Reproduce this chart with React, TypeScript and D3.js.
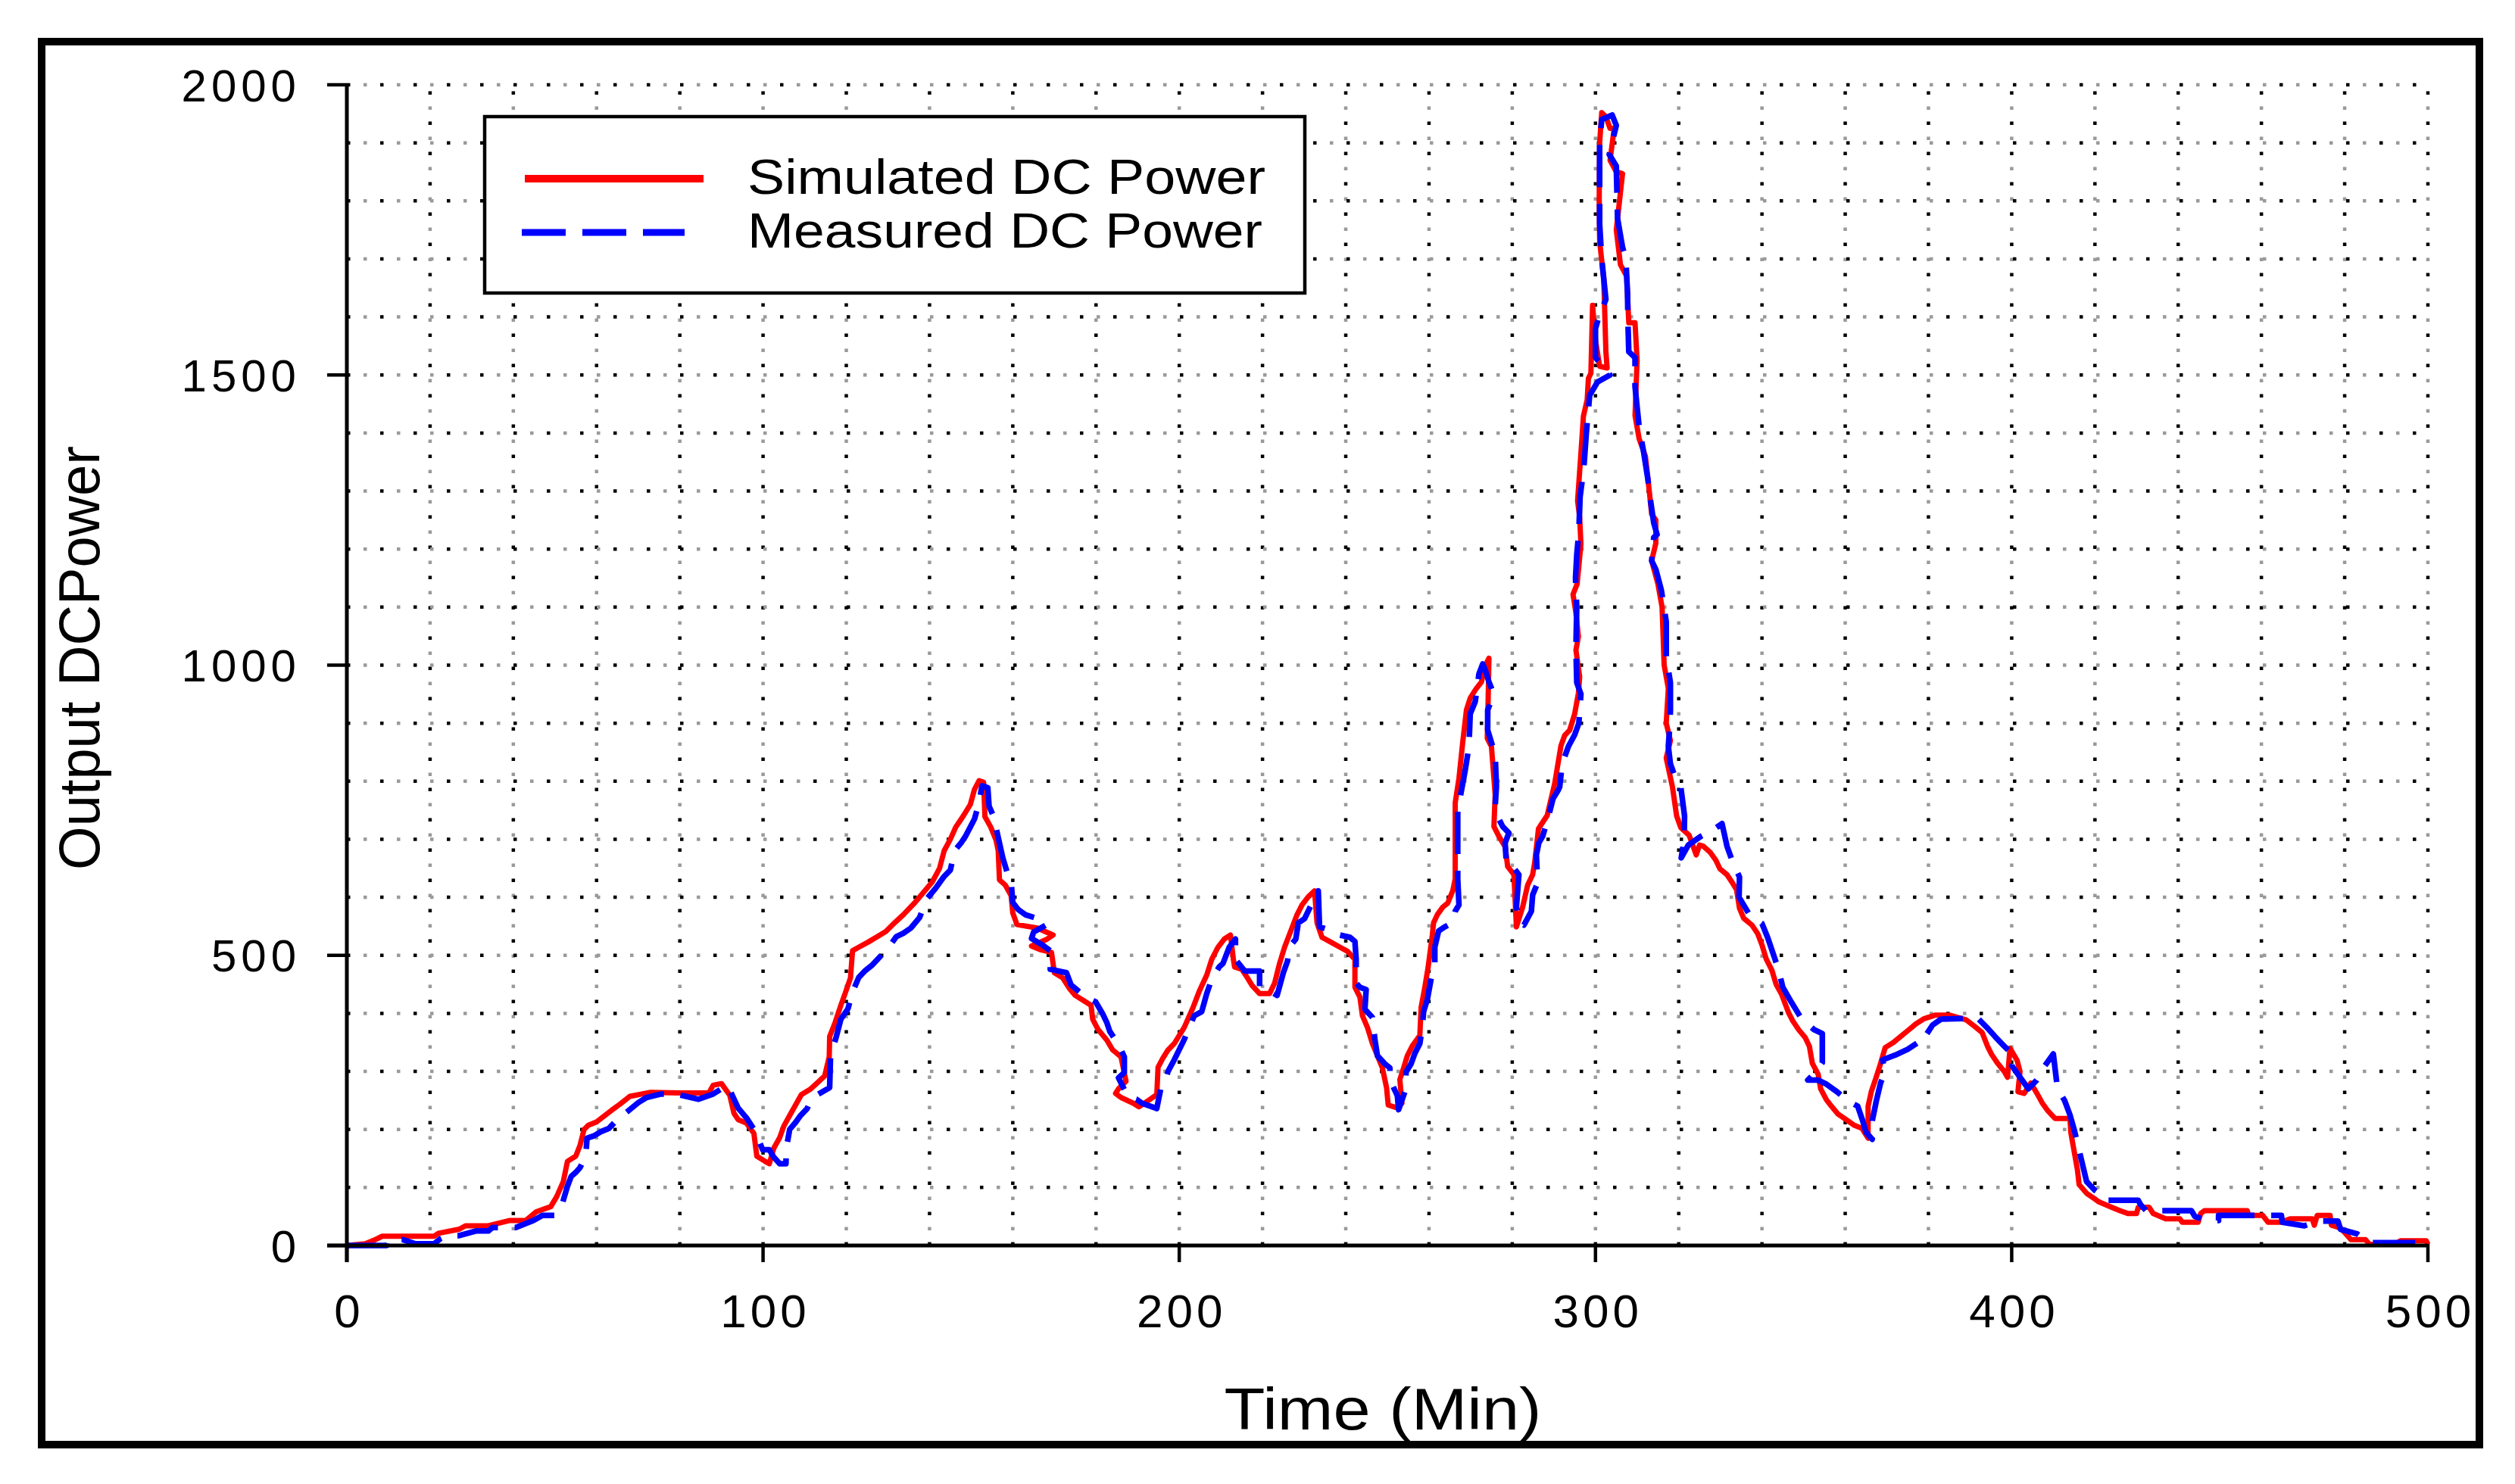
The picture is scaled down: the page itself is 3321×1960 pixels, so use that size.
import React from "react";
import * as d3 from "d3";

// ---------- data ----------
const xTicks = [0, 100, 200, 300, 400, 500];
const yTicks = [0, 500, 1000, 1500, 2000];
const xGridStep = 20;
const yGridStep = 100;

const legendLabels = ["Simulated DC Power", "Measured DC Power"];
const xTitle = "Time (Min)";
const yTitle = "Output DCPower";

const simulatedDC: [number, number][] = [
  [0,0],[4.4,3],[6.5,9],[8.5,16],[13.4,16],[21,16],[22,21],[27,28],[28.5,34],[34,34],[39,43],[43,43],[45.5,58],[49,67],[50.4,84],[52,110],[53,145],[55,154],[56,172],[57,200],[58,207],[60,213],[62,224],[63.6,233],[65.7,244],[68,257],[73,264],[80,263],[87,263],[88,276],[90,279],[92,259],[93,228],[94,217],[96,211],[97.8,193],[98.5,154],[100.5,145],[101.5,141],[102.6,168],[104,186],[105,206],[106.4,224],[107.8,242],[109.2,260],[111.3,269],[112.7,278],[114.8,292],[115.9,325],[116,360],[117.3,384],[118.7,414],[119.7,434],[121,461],[121.5,508],[123,514],[125.3,523],[127.4,532],[129.5,541],[131.6,556],[133.7,570],[136.5,591],[138.6,609],[140.7,627],[142.4,650],[143.5,680],[145,700],[146.3,721],[148,739],[149.8,760],[150.8,786],[151.9,801],[153,798],[153.3,739],[154.7,721],[156,698],[156.5,680],[156.8,630],[158.2,621],[159.6,603],[160,573],[161,553],[165.9,547],[169.7,535],[168,527],[164.5,516],[166.5,510],[169.3,505],[170,470],[172,461],[173.6,443],[175,431],[177,422],[178.8,414],[179.2,390],[180.5,372],[182.6,354],[184,337],[186,325],[187.2,283],[185.4,270],[184.7,262],[186,255],[189,245],[190.3,239],[192.8,251],[194.6,260],[194.9,307],[196,322],[197.3,337],[198.8,348],[201.2,376],[203.3,410],[204.8,438],[206.6,466],[207.8,493],[209.3,514],[210.8,528],[212.3,535],[213,493],[213.3,480],[215,476],[216.3,462],[217.5,448],[219.3,434],[221.7,434],[222.9,452],[224.1,486],[225.3,514],[226.8,542],[228.3,570],[229.5,587],[231,601],[232.5,611],[233.1,556],[234.3,531],[236.1,524],[238.6,514],[240.4,507],[242.2,493],[242.2,445],[243.4,428],[244,396],[245.2,376],[246.4,348],[248.8,306],[249.8,272],[250.2,242],[252,238],[253.5,245],[253,286],[253.9,306],[254.8,327],[256,344],[257.8,362],[258.1,410],[259,445],[259.8,480],[260.8,535],[261.1,556],[262,570],[263.3,583],[264.5,590],[265.7,611],[266.3,632],[266.3,763],[267.2,805],[268.1,867],[269,923],[269.9,943],[271.1,957],[272.6,971],[273.5,999],[274.4,1012],[274.2,937],[274,874],[275,860],[275.9,777],[275.6,722],[276.8,705],[278.3,687],[278.9,653],[280.4,639],[281,549],[282.5,583],[283.7,621],[284.9,639],[285.4,660],[286.3,718],[287.2,728],[288.4,741],[290.2,796],[291.7,861],[292.6,879],[293.8,888],[295,916],[295.9,952],[296.2,980],[295.3,1026],[295.9,1049],[295.3,1090],[294.6,1122],[295.6,1140],[295.9,1163],[296.5,1209],[296.2,1255],[295.7,1283],[296.5,1365],[297.1,1429],[298,1457],[298.3,1494],[298.9,1503],[299.3,1620],[300,1560],[301,1515],[302.8,1512],[302.5,1540],[302,1665],[301,1730],[300.9,1805],[301,1900],[301.5,1952],[302.5,1945],[303.5,1925],[304.5,1925],[303.5,1870],[305,1850],[306.5,1847],[305,1750],[306,1690],[307.5,1670],[308,1590],[309.5,1590],[310,1525],[309.5,1430],[310.5,1390],[312,1360],[313,1295],[313.5,1260],[314.5,1250],[314.5,1210],[313.5,1180],[315,1140],[316,1100],[316.5,1000],[317.5,960],[317,900],[318,870],[317,840],[318.5,790],[319.5,740],[320.5,720],[322.5,707],[324.2,673],[325,690],[325.9,688],[327.5,678],[328.9,664],[329.9,649],[331.6,639],[332.9,625],[333.9,613],[334.6,581],[335.6,564],[337.6,552],[339,537],[340,518],[341,494],[342.4,474],[343.4,450],[344.7,433],[346.4,401],[347.4,387],[348.8,372],[350.4,358],[351.4,343],[352.1,314],[353.5,295],[354.1,270],[355.5,251],[356.8,239],[358.2,227],[360.2,217],[362.2,207],[364,202],[365.5,185],[365.5,240],[366.3,266],[367.3,287],[368.3,309],[369.6,341],[371.6,350],[373.3,360],[375,370],[377,382],[379,391],[381.7,397],[385,397],[389,389],[391.2,377],[392.9,367],[394.2,343],[395.2,329],[396.6,314],[398.2,300],[399,290],[399.6,340],[401.3,319],[402,300],[401.5,265],[403,262],[404.6,280],[406,263],[407.3,246],[408.7,232],[410.4,219],[414,219],[414.2,195],[415.8,130],[416.2,105],[418,90],[420,80],[421,75],[424,66],[426,60],[428,55],[430,55],[430.4,66],[433,66],[434,55],[437,46],[440.4,46],[441,40],[444.8,40],[445.4,55],[446.3,60],[456.6,60],[456.9,52],[460.3,52],[461.6,40],[464.7,40],[466.9,46],[472.2,46],[472.7,35],[473.4,52],[476.5,52],[476.8,35],[479,30],[480.3,20],[481.5,10],[485,10],[486,2],[492,2],[493.4,8],[499.6,8],[500,2]
];

const measuredDC: [number, number][] = [
  [0,0],[4.4,0],[9.6,0],[10,10],[13.5,10],[16.5,3],[21,3],[22.5,12],[24,17],[27,17],[31,25],[34,25],[35,31],[40.6,31],[44.8,43],[47,52],[50,52],[50.7,62],[51.8,73],[53,102],[53.9,119],[55,126],[56,134],[57.4,154],[57.7,185],[59.4,189],[61,196],[63,202],[64.7,215],[70,246],[72,255],[75.5,261],[79,261],[84.5,252],[88,261],[90,270],[91.5,276],[92,268],[94,237],[96,220],[98,198],[98.8,185],[99.9,165],[101.5,165],[102.5,153],[104,141],[105.5,141],[105.6,168],[106.4,200],[107.8,212],[109,224],[110.6,236],[111.7,254],[116,272],[116.2,325],[117.6,360],[118.7,390],[120.4,408],[121.5,437],[123,462],[124.6,474],[126.2,483],[130.2,514],[132,532],[133.7,538],[135.5,547],[137.6,565],[139.3,597],[141.4,615],[143.5,636],[145,647],[146,680],[147.7,695],[148.7,706],[149.8,721],[150.8,735],[151.9,763],[152.6,792],[154,789],[154.3,757],[155.4,739],[156.5,703],[157.6,668],[158.6,644],[159.6,627],[160,591],[161.3,579],[163,570],[166.5,562],[168.2,553],[165,540],[164.5,529],[167.3,517],[169,508],[169,476],[172.9,470],[174,449],[175.5,440],[177.5,428],[179.9,420],[181.6,399],[182.6,384],[183.3,369],[185.4,346],[186.8,325],[186.8,298],[185.4,289],[187.6,257],[189.7,252],[191.1,245],[194.6,236],[195.6,272],[196.6,283],[197.3,300],[198.8,320],[201.2,355],[203.6,396],[205.4,403],[206.6,434],[207.8,459],[209.6,480],[210.5,486],[212,514],[213.5,528],[213.5,493],[215.7,473],[219.3,473],[219.3,445],[221.1,441],[223.5,431],[225,470],[226,490],[226.5,515],[228,528],[228.6,556],[230.1,563],[231.9,590],[233.4,611],[233.7,549],[235.5,545],[238.6,535],[241,531],[242.2,524],[242.5,493],[242.5,452],[243.4,445],[244.9,441],[244.6,407],[246.4,393],[247,355],[247.6,327],[249.4,313],[250.6,306],[250.6,286],[252.4,258],[252.7,234],[254.2,265],[254.5,299],[255.7,313],[256.6,331],[257.8,348],[258.4,376],[258.7,403],[259.6,424],[260.5,459],[261.4,486],[261.4,514],[262.3,542],[263.8,549],[265.7,556],[266.3,576],[267.2,587],[266.9,632],[266.9,750],[267.8,784],[268.7,819],[269.6,860],[269.9,916],[271.1,937],[272,985],[272.9,1002],[273.5,992],[274.4,971],[275.6,950],[274.1,923],[274.1,888],[275.9,846],[276.2,791],[275.9,757],[276.5,739],[277.7,722],[279.2,711],[278.3,694],[278.6,656],[280.1,653],[281.6,639],[281,583],[281.9,556],[282.8,552],[284.6,576],[284.9,604],[286.1,625],[285.8,673],[286.4,694],[287.3,705],[288.6,736],[289.8,770],[291,784],[291.4,790],[292,830],[293.5,860],[295,880],[296,900],[296.5,950],[295.5,970],[295.3,1030],[295.5,1100],[295.2,1150],[295.5,1190],[296,1230],[296.3,1290],[297.2,1340],[297.8,1400],[298.3,1440],[298.6,1465],[300.5,1488],[303.5,1500],[300,1530],[300,1580],[301,1605],[302.5,1630],[301.5,1700],[301,1760],[301,1830],[301,1900],[301.5,1940],[304,1948],[305,1930],[303.3,1880],[305,1860],[305.3,1770],[306.5,1720],[307.3,1700],[307.7,1640],[307.8,1590],[308,1540],[309.5,1530],[309.5,1480],[310.5,1410],[311.5,1370],[312.6,1320],[313,1295],[314,1245],[314.8,1225],[314,1220],[313.5,1180],[314.5,1165],[315.8,1130],[317,1075],[317,1015],[318,970],[318,920],[317.8,890],[317.5,860],[318,830],[319,810],[320.5,790],[321.4,740],[321.3,700],[320.6,668],[322.3,690],[325.3,705],[328,715],[330.4,727],[331.6,688],[333,660],[334.6,635],[334.5,600],[337,570],[340,555],[341.4,530],[344,475],[345,445],[347,420],[349.4,392],[352.5,372],[354.5,365],[354.5,315],[353,300],[351,285],[353.5,285],[355.5,278],[358,265],[360.5,250],[363,240],[364.2,215],[365,195],[366.5,183],[366.5,215],[367.5,250],[368.5,280],[369.6,300],[369,320],[372,328],[375,338],[377.5,350],[378,347],[381,380],[383,390],[391.8,392],[394,376],[396,360],[398,345],[400.6,326],[400,310],[402,290],[404,270],[406,285],[408,310],[410,330],[410.5,300],[411,270],[412.7,250],[414,225],[415,200],[416,170],[417,140],[418,110],[420,95],[421.4,88],[422.3,78],[430.4,78],[431,70],[432.3,60],[443.2,60],[444,50],[447,43],[449.7,43],[449.7,52],[456,52],[460,52],[464.8,52],[465,40],[470.3,34],[472,38],[474.4,42],[478.4,42],[479,28],[483,20],[486,5],[494.6,5],[496.8,5],[500,5]
];

// ---------- layout ----------
const W = 3321;
const H = 1960;
const FONT = "'Liberation Sans', Arial, Helvetica, sans-serif";

const x = d3.scaleLinear().domain([0, 500]).range([458, 3206]);
const y = d3.scaleLinear().domain([0, 2000]).range([1645, 112]);

const line = d3
  .line<[number, number]>()
  .x((d) => x(d[0]))
  .y((d) => y(d[1]));

export default function App() {
  const gridXs = d3.range(xGridStep, 500 + 0.001, xGridStep);
  const gridYs = d3.range(yGridStep, 2000 + 0.001, yGridStep);
  const [x0, x1] = x.range();
  const [y0, y1] = y.range();

  return (
    <svg
      width={W}
      height={H}
      viewBox={`0 0 ${W} ${H}`}
      style={{ position: "absolute", left: 0, top: 0, display: "block", background: "#fff" }}
    >
      <rect x={0} y={0} width={W} height={H} fill="#fff" />
      {/* outer frame */}
      <rect x={55} y={55} width={3219} height={1853} fill="none" stroke="#000" strokeWidth={10} />

      {/* dotted grid: alternating black / gray dots */}
      <g>
        {gridXs.map((g) => (
          <g key={"gx" + g}>
            <line x1={x(g)} x2={x(g)} y1={y0} y2={y1} stroke="#9a9a9a" strokeWidth={4.5} strokeDasharray="4.5 35.5" strokeDashoffset={20} />
            <line x1={x(g)} x2={x(g)} y1={y0} y2={y1} stroke="#000" strokeWidth={4.5} strokeDasharray="4.5 35.5" />
          </g>
        ))}
        {gridYs.map((g) => (
          <g key={"gy" + g}>
            <line x1={x0} x2={x1} y1={y(g)} y2={y(g)} stroke="#9a9a9a" strokeWidth={4.5} strokeDasharray="4.5 39.5" strokeDashoffset={22} />
            <line x1={x0} x2={x1} y1={y(g)} y2={y(g)} stroke="#000" strokeWidth={4.5} strokeDasharray="4.5 39.5" />
          </g>
        ))}
      </g>

      {/* series */}
      <path d={line(simulatedDC) || ""} fill="none" stroke="#ff0000" strokeWidth={7} strokeLinejoin="round" />
      <path d={line(measuredDC) || ""} fill="none" stroke="#0000ff" strokeWidth={7.5} strokeDasharray="56 22" strokeLinejoin="round" />

      {/* axes */}
      <line x1={x0} x2={x0} y1={y1} y2={y0 + 22} stroke="#000" strokeWidth={5} />
      <line x1={432} x2={x1} y1={y0} y2={y0} stroke="#000" strokeWidth={5} />
      {yTicks.map((t) => (
        <g key={"yt" + t}>
          <line x1={432} x2={x0} y1={y(t)} y2={y(t)} stroke="#000" strokeWidth={4.5} />
          <text x={392 + 5} y={y(t)} dy="0.36em" textAnchor="end" fontFamily={FONT} fontSize={60} letterSpacing={6} fill="#000">
            {t}
          </text>
        </g>
      ))}
      {xTicks.map((t) => (
        <g key={"xt" + t}>
          <line x1={x(t)} x2={x(t)} y1={y0} y2={y0 + 22} stroke="#000" strokeWidth={4.5} />
          <text x={x(t) + 3} y={1753} textAnchor="middle" fontFamily={FONT} fontSize={62} letterSpacing={5} fill="#000">
            {t}
          </text>
        </g>
      ))}

      {/* axis titles */}
      <text x={1826} y={1888} textAnchor="middle" fontFamily={FONT} fontSize={77} textLength={419} lengthAdjust="spacingAndGlyphs" fill="#000">
        {xTitle}
      </text>
      <text
        transform={`translate(131, 869) rotate(-90)`}
        textAnchor="middle"
        fontFamily={FONT}
        fontSize={76}
        textLength={560}
        lengthAdjust="spacingAndGlyphs"
        fill="#000"
      >
        {yTitle}
      </text>

      {/* legend */}
      <rect x={640} y={154} width={1083} height={233} fill="#fff" stroke="#000" strokeWidth={4.5} />
      <line x1={693} x2={929} y1={236} y2={236} stroke="#ff0000" strokeWidth={10} />
      <line x1={689} x2={904} y1={307} y2={307} stroke="#0000ff" strokeWidth={9} strokeDasharray="58 22" />
      <text x={987} y={256} fontFamily={FONT} fontSize={64} textLength={684} lengthAdjust="spacingAndGlyphs" fill="#000">
        {legendLabels[0]}
      </text>
      <text x={987} y={327} fontFamily={FONT} fontSize={64} textLength={680} lengthAdjust="spacingAndGlyphs" fill="#000">
        {legendLabels[1]}
      </text>
    </svg>
  );
}
